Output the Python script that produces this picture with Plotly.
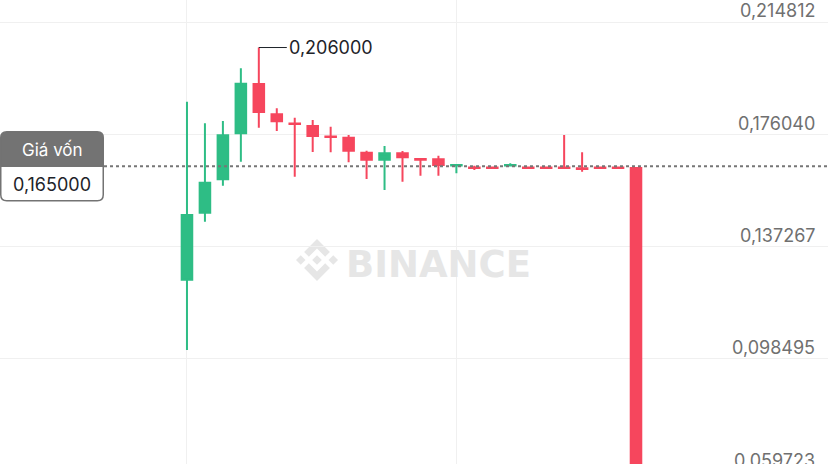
import plotly.graph_objects as go

# ---------------- data ----------------
candle_idx = list(range(26))
open_ = [0.12586, 0.14899, 0.16052, 0.17640, 0.19341, 0.18295, 0.17980, 0.17892, 0.17530, 0.17488,
         0.16970, 0.16728, 0.16949, 0.16750, 0.16742, 0.16530, 0.16458, 0.16455, 0.16527, 0.16455,
         0.16455, 0.16455, 0.16430, 0.16455, 0.16455, 0.16440]
high = [0.18730, 0.17985, 0.18064, 0.19883, 0.20600, 0.18503, 0.18178, 0.18099, 0.17867, 0.17581,
        0.17039, 0.17201, 0.17029, 0.16770, 0.16866, 0.16550, 0.16521, 0.16460, 0.16604, 0.16460,
        0.16460, 0.17581, 0.16984, 0.16460, 0.16460, 0.16440]
low = [0.10160, 0.14588, 0.15831, 0.16659, 0.17833, 0.17719, 0.16142, 0.16994, 0.16984, 0.16639,
       0.16062, 0.15683, 0.15969, 0.16176, 0.16176, 0.16259, 0.16373, 0.16430, 0.16520, 0.16430,
       0.16430, 0.16430, 0.16314, 0.16430, 0.16430, 0.04800]
close = [0.14820, 0.15935, 0.17571, 0.19352, 0.18375, 0.18054, 0.17960, 0.17546, 0.17515, 0.17039,
         0.16728, 0.16949, 0.16811, 0.16730, 0.16545, 0.16547, 0.16440, 0.16440, 0.16545, 0.16440,
         0.16440, 0.16440, 0.16410, 0.16440, 0.16440, 0.04800]

cost_price = 0.165000
cost_label = "Giá vốn"
tick_values = [0.214812, 0.176040, 0.137267, 0.098495, 0.059723]
tick_labels = ["0,214812", "0,176040", "0,137267", "0,098495", "0,059723"]
x_grid = [0, 15]

GREEN = "#2EBD85"
RED = "#F6465D"
GRID = "#F0F0F0"
LABEL = "#707070"
FONT = "Inter"

Y_RANGE = [0.062251, 0.2224055]


def fmt(v):
    return f"{v:.6f}".replace(".", ",")


fig = go.Figure(go.Candlestick(
    x=candle_idx, open=open_, high=high, low=low, close=close,
    increasing=dict(line=dict(color=GREEN, width=2), fillcolor=GREEN),
    decreasing=dict(line=dict(color=RED, width=2), fillcolor=RED),
    whiskerwidth=0, showlegend=False, hoverinfo="skip",
))

W, H = 828, 464
fig.update_layout(
    width=W, height=H, margin=dict(l=0, r=0, t=0, b=0),
    paper_bgcolor="white", plot_bgcolor="white",
    boxgap=0.16, hovermode=False, showlegend=False,
    font=dict(family=FONT, color=LABEL),
)
fig.update_xaxes(
    range=[-10.41, 35.69], rangeslider_visible=False,
    showgrid=True, gridcolor=GRID, gridwidth=1, tickmode="array", tickvals=x_grid,
    showticklabels=False, zeroline=False, showline=False, ticks="",
)
fig.update_yaxes(
    range=Y_RANGE, side="right",
    tickmode="array", tickvals=tick_values, showticklabels=False,
    showgrid=True, gridcolor=GRID, gridwidth=1, zeroline=False, showline=False, ticks="",
)

annotations = []
for v, t in zip(tick_values, tick_labels):
    yp = (v - Y_RANGE[0]) / (Y_RANGE[1] - Y_RANGE[0])
    annotations.append(dict(
        x=1, xref="paper", xanchor="right", xshift=-11,
        y=yp, yref="paper", yanchor="middle", yshift=11,
        text=t, showarrow=False, font=dict(family=FONT, size=18, color=LABEL),
    ))

# highest-price marker
imax = max(range(len(high)), key=lambda i: high[i])
hmax = high[imax]
shapes = [
    dict(type="line", xref="x", xsizemode="pixel", xanchor=candle_idx[imax], x0=0, x1=28,
         yref="y", y0=hmax, y1=hmax, line=dict(color="#1E2329", width=1)),
]
annotations.append(dict(
    x=candle_idx[imax], xref="x", xanchor="left", xshift=28,
    y=hmax, yref="y", yanchor="middle", yshift=0,
    text=fmt(hmax), showarrow=False, font=dict(family=FONT, size=18, color="#1E2329"),
))

# cost line
shapes.append(dict(type="line", xref="paper", x0=104 / W, x1=1, yref="y", y0=cost_price, y1=cost_price,
                   line=dict(color="#767676", width=2, dash="3px,3px")))

# cost label box
bw, bh, r = 102.5, 34.5, 6
x0 = 0.75
lower = (f"M {x0},0 L {x0},{-bh + r} Q {x0},{-bh} {x0 + r},{-bh} L {x0 + bw - r},{-bh} "
         f"Q {x0 + bw},{-bh} {x0 + bw},{-bh + r} L {x0 + bw},0 Z")
upper = (f"M {x0},0 L {x0},{bh - r} Q {x0},{bh} {x0 + r},{bh} L {x0 + bw - r},{bh} "
         f"Q {x0 + bw},{bh} {x0 + bw},{bh - r} L {x0 + bw},0 Z")
for p, fc in ((lower, "white"), (upper, "#737373")):
    shapes.append(dict(type="path", path=p, xref="paper", xsizemode="pixel", xanchor=0,
                       yref="y", ysizemode="pixel", yanchor=cost_price,
                       fillcolor=fc, line=dict(color="#737373", width=1.5)))
annotations.append(dict(x=(x0 + bw / 2) / W, xref="paper", xanchor="center", y=cost_price, yref="y",
                        yanchor="middle", yshift=17, text=cost_label, showarrow=False,
                        font=dict(family=FONT, size=17, color="white")))
annotations.append(dict(x=(x0 + bw / 2) / W, xref="paper", xanchor="center", y=cost_price, yref="y",
                        yanchor="middle", yshift=-18, text=fmt(cost_price), showarrow=False,
                        font=dict(family=FONT, size=18, color="#1E2329")))

# watermark
WM = "#E6E6E6"
annotations.append(dict(x=438 / W, xref="paper", xanchor="center", y=1 - 264 / H, yref="paper",
                        yanchor="middle", text="<b>BINANCE</b>", showarrow=False,
                        font=dict(family="DejaVu Sans", size=37, color=WM)))
logo_polys = [
    [(38.73, 53.2), (63.3, 28.63), (87.9, 53.21), (102.19, 38.92), (63.3, 0), (24.42, 38.91)],
    [(0, 63.31), (14.3, 49.01), (28.59, 63.31), (14.3, 77.6)],
    [(38.73, 73.41), (63.3, 97.99), (87.9, 73.4), (102.2, 87.69), (63.3, 126.61), (24.42, 87.72)],
    [(98.01, 63.31), (112.31, 49.01), (126.61, 63.31), (112.31, 77.6)],
    [(77.81, 63.3), (63.3, 48.78), (48.79, 63.3), (63.3, 77.81)],
]
s = 42 / 126.61
for poly in logo_polys:
    pts = [((px - 63.3) * s, (63.3 - py) * s) for px, py in poly]
    path = "M " + " L ".join(f"{a:.2f},{b:.2f}" for a, b in pts) + " Z"
    shapes.append(dict(type="path", path=path, xref="paper", xsizemode="pixel", xanchor=317 / W,
                       yref="paper", ysizemode="pixel", yanchor=1 - 260 / H,
                       fillcolor=WM, line=dict(width=0), layer="below"))

fig.update_layout(shapes=shapes, annotations=annotations)
fig.write_html(
    "out.html",
    config={"displayModeBar": False},
    post_script="document.body.style.margin='0';document.body.style.overflow='hidden';",
)
